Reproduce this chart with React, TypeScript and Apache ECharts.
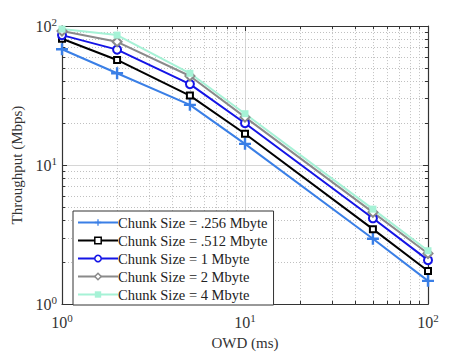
import React, { useEffect, useRef } from "react";
import * as echarts from "echarts";

const owd = [1, 2, 5, 10, 50, 100];
const chunk256 = [68, 45.7, 27.1, 14.2, 2.95, 1.47];
const chunk512 = [81, 57, 31.6, 16.8, 3.46, 1.73];
const chunk1 = [86, 67.6, 38.2, 20, 4.14, 2.07];
const chunk2 = [92, 77, 43.7, 22.1, 4.57, 2.31];
const chunk4 = [95, 86, 45.7, 23.4, 4.82, 2.42];
const seriesNames = [
  "Chunk Size = .256 Mbyte",
  "Chunk Size = .512 Mbyte",
  "Chunk Size = 1 Mbyte",
  "Chunk Size = 2 Mbyte",
  "Chunk Size = 4 Mbyte",
];
const minorTicks = [2, 3, 4, 5, 6, 7, 8, 9, 20, 30, 40, 50, 60, 70, 80, 90];

const FONT = "Liberation Serif";
const PLUS = "path://M4,0h2v4h4v2h-4v4h-2v-4h-4v-2h4z";

const labelFmt = (v: number) => `{b|10}{s|${Math.round(Math.log10(v))}}`;
const rich = {
  b: { fontSize: 16, fontFamily: FONT, color: "#333" },
  s: { fontSize: 11, fontFamily: FONT, color: "#333", verticalAlign: "top" as const, padding: [0, 0, 9, 0] },
};

export default function App() {
  const ref = useRef<HTMLDivElement>(null);
  useEffect(() => {
    if (!ref.current) return;
    const chart = echarts.init(ref.current, null, { renderer: "svg" });
    const pair = (ys: number[]) => owd.map((x, i) => [x, ys[i]]);
    const lineCommon = {
      type: "line" as const,
      z: 3,
    };
    const gridLines = [
      ...minorTicks.map((v) => ({ xAxis: v })),
      ...minorTicks.map((v) => ({ yAxis: v })),
    ];
    const fy = 1.055;
    const fx = 1.04;
    const tickMarks: any[] = [];
    minorTicks.forEach((v) => {
      tickMarks.push([{ coord: [v, 1] }, { coord: [v, fy] }]);
      tickMarks.push([{ coord: [v, 100] }, { coord: [v, 100 / fy] }]);
      tickMarks.push([{ coord: [1, v] }, { coord: [fx, v] }]);
      tickMarks.push([{ coord: [100, v] }, { coord: [100 / fx, v] }]);
    });
    chart.setOption({
      animation: false,
      backgroundColor: "#fff",
      grid: { left: 62, right: 46, top: 26, bottom: 47 },
      legend: {
        data: seriesNames,
        orient: "vertical",
        left: 73,
        top: 211,
        itemWidth: 40,
        itemHeight: 8,
        itemGap: 3,
        borderColor: "#333",
        borderWidth: 1,
        backgroundColor: "#fff",
        padding: [4, 6, 3, 4],
        itemStyle: { borderWidth: 1.5 },
        textStyle: { fontFamily: FONT, fontSize: 14.5, color: "#222", padding: [0, 0, 0, -5] },
      },
      xAxis: [
        {
          type: "log",
          logBase: 10,
          min: 1,
          max: 100,
          name: "OWD (ms)",
          nameLocation: "middle",
          nameGap: 25,
          nameTextStyle: { fontFamily: FONT, fontSize: 15, color: "#333" },
          axisLine: { lineStyle: { color: "#333", width: 1.2 } },
          axisTick: { inside: true, length: 5, lineStyle: { color: "#333" } },
          axisLabel: { formatter: labelFmt, rich, margin: 8 },
          splitLine: { show: true, lineStyle: { color: "#d6d6d6", width: 1 } },
        },
        {
          type: "log",
          logBase: 10,
          min: 1,
          max: 100,
          position: "top",
          axisLine: { lineStyle: { color: "#333", width: 1.2 } },
          axisTick: { inside: true, length: 5, lineStyle: { color: "#333" } },
          axisLabel: { show: false },
          splitLine: { show: false },
        },
      ],
      yAxis: [
        {
          type: "log",
          logBase: 10,
          min: 1,
          max: 100,
          name: "Throughput (Mbps)",
          nameLocation: "middle",
          nameGap: 28,
          nameTextStyle: { fontFamily: FONT, fontSize: 15, color: "#333" },
          axisLine: { show: true, lineStyle: { color: "#333", width: 1.2 } },
          axisTick: { show: true, inside: true, length: 5, lineStyle: { color: "#333" } },
          axisLabel: { formatter: labelFmt, rich, margin: 5 },
          splitLine: { show: true, lineStyle: { color: "#d6d6d6", width: 1 } },
        },
        {
          type: "log",
          logBase: 10,
          min: 1,
          max: 100,
          position: "right",
          axisLine: { show: true, lineStyle: { color: "#333", width: 1.2 } },
          axisTick: { show: true, inside: true, length: 5, lineStyle: { color: "#333" } },
          axisLabel: { show: false },
          splitLine: { show: false },
        },
      ],
      series: [
        {
          type: "line",
          name: "grid",
          data: [[1, 1]],
          showSymbol: false,
          symbol: "none",
          lineStyle: { opacity: 0 },
          silent: true,
          z: 1,
          markLine: {
            silent: true,
            symbol: "none",
            label: { show: false },
            lineStyle: { color: "#c0c0c0", type: [1, 2], width: 1 },
            data: gridLines,
            z: 1,
          },
        },
        {
          type: "line",
          name: "ticks",
          data: [[1, 1]],
          showSymbol: false,
          symbol: "none",
          lineStyle: { opacity: 0 },
          silent: true,
          z: 2,
          markLine: {
            silent: true,
            symbol: "none",
            label: { show: false },
            lineStyle: { color: "#333", type: "solid", width: 1 },
            data: tickMarks,
            z: 2,
          },
        },
        {
          ...lineCommon,
          name: seriesNames[0],
          data: pair(chunk256),
          symbol: PLUS,
          symbolSize: 12,
          lineStyle: { color: "#3a7fe6", width: 2 },
          itemStyle: { color: "#3a7fe6" },
        },
        {
          ...lineCommon,
          name: seriesNames[1],
          data: pair(chunk512),
          symbol: "rect",
          symbolSize: 6,
          lineStyle: { color: "#000", width: 2 },
          itemStyle: { color: "#fff", borderColor: "#000", borderWidth: 2 },
        },
        {
          ...lineCommon,
          name: seriesNames[2],
          data: pair(chunk1),
          symbol: "circle",
          symbolSize: 8,
          lineStyle: { color: "#1414e6", width: 2 },
          itemStyle: { color: "#fff", borderColor: "#1414e6", borderWidth: 2 },
        },
        {
          ...lineCommon,
          name: seriesNames[3],
          data: pair(chunk2),
          symbol: "diamond",
          symbolSize: 9,
          lineStyle: { color: "#8a8a8a", width: 2 },
          itemStyle: { color: "#fff", borderColor: "#8a8a8a", borderWidth: 2 },
        },
        {
          ...lineCommon,
          name: seriesNames[4],
          data: pair(chunk4),
          symbol: "rect",
          symbolSize: 7,
          lineStyle: { color: "#a6f2d6", width: 2 },
          itemStyle: { color: "#a6f2d6" },
        },
      ],
    });
    return () => chart.dispose();
  }, []);
  return (
    <div
      ref={ref}
      style={{ position: "fixed", left: 0, top: 0, width: 474, height: 355, background: "#fff" }}
    />
  );
}
